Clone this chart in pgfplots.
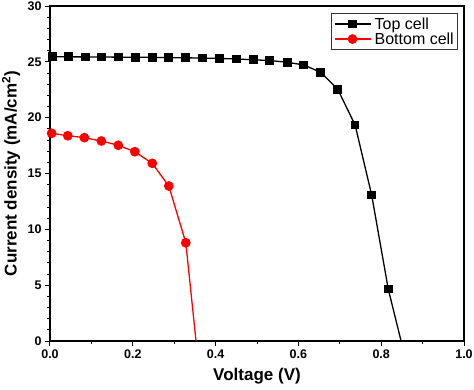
\documentclass[border=0pt]{standalone}
\usepackage{pgfplots}
\pgfplotsset{compat=1.18}
\usepackage{fontspec}
\setmainfont{Liberation Sans}
\begin{document}
\begin{tikzpicture}
\begin{axis}[
  scale only axis, width=414pt, height=335pt,
  xmin=0, xmax=1, ymin=0, ymax=30,
  xtick={0,0.2,0.4,0.6,0.8,1.0}, ytick={0,5,10,15,20,25,30},
  minor x tick num=1, minor y tick num=4,
  tick pos=left, tick align=outside,
  major tick length=5pt, minor tick length=3pt,
  every tick/.style={black, line width=1pt},
  axis line style={line width=1.2pt},
  /pgf/number format/assume math mode=true,
  tick label style={font=\fontsize{12.5}{14}\selectfont\bfseries},
  xticklabel style={/pgf/number format/.cd, fixed, fixed zerofill, precision=1},
  yticklabel style={/pgf/number format/.cd, fixed, precision=0},
  xlabel={Voltage (V)}, ylabel={Current density (mA/cm$^{\mathbf{2}}$)},
  label style={font=\fontsize{17}{19}\selectfont\bfseries},
  xlabel style={at={(axis description cs:0.5,-0.105)}, anchor=center},
  ylabel style={at={(axis description cs:-0.094,0.5)}, anchor=center},
  legend style={at={(axis description cs:0.986,0.979)}, anchor=north east,
    draw=black!80, line width=0.8pt, font=\fontsize{16}{17}\selectfont,
    inner xsep=2pt, inner ysep=2pt, row sep=-2pt,
    nodes={inner xsep=2pt, inner ysep=2pt}},
  legend cell align=left,
  legend image code/.code={\draw[mark repeat=2,mark phase=2,#1] plot coordinates {(0pt,0pt) (18pt,0pt) (36pt,0pt)};},
]
\addplot[black, line width=1.3pt, mark=square*, mark size=3.7pt, mark options={solid}] coordinates {
(0.006,25.45) (0.044,25.45) (0.085,25.44) (0.125,25.43) (0.166,25.42)
(0.207,25.41) (0.247,25.40) (0.287,25.38) (0.328,25.36) (0.369,25.34)
(0.410,25.30) (0.451,25.26) (0.491,25.18) (0.531,25.12) (0.573,24.96)
(0.613,24.72) (0.654,24.06) (0.695,22.54) (0.737,19.34) (0.777,13.07)
(0.817,4.66)};
\addlegendentry{\hspace{1.5pt}Top cell}
\addplot[red, line width=1.3pt, mark=*, mark size=4.2pt] coordinates {
(0.004,18.60) (0.043,18.38) (0.083,18.21) (0.124,17.91) (0.165,17.53)
(0.205,16.95) (0.247,15.91) (0.287,13.88) (0.328,8.80)};
\addlegendentry{\hspace{1.5pt}Bottom cell}
\addplot[black, line width=1.3pt, forget plot, no markers] coordinates {(0.817,4.66) (0.848,0)};
\addplot[red, line width=1.3pt, forget plot, no markers] coordinates {(0.328,8.80) (0.3527,0)};
\end{axis}
\pgfresetboundingbox
\path[use as bounding box] (-50pt,-48pt) rectangle (424pt,341pt);
\end{tikzpicture}
\end{document}
